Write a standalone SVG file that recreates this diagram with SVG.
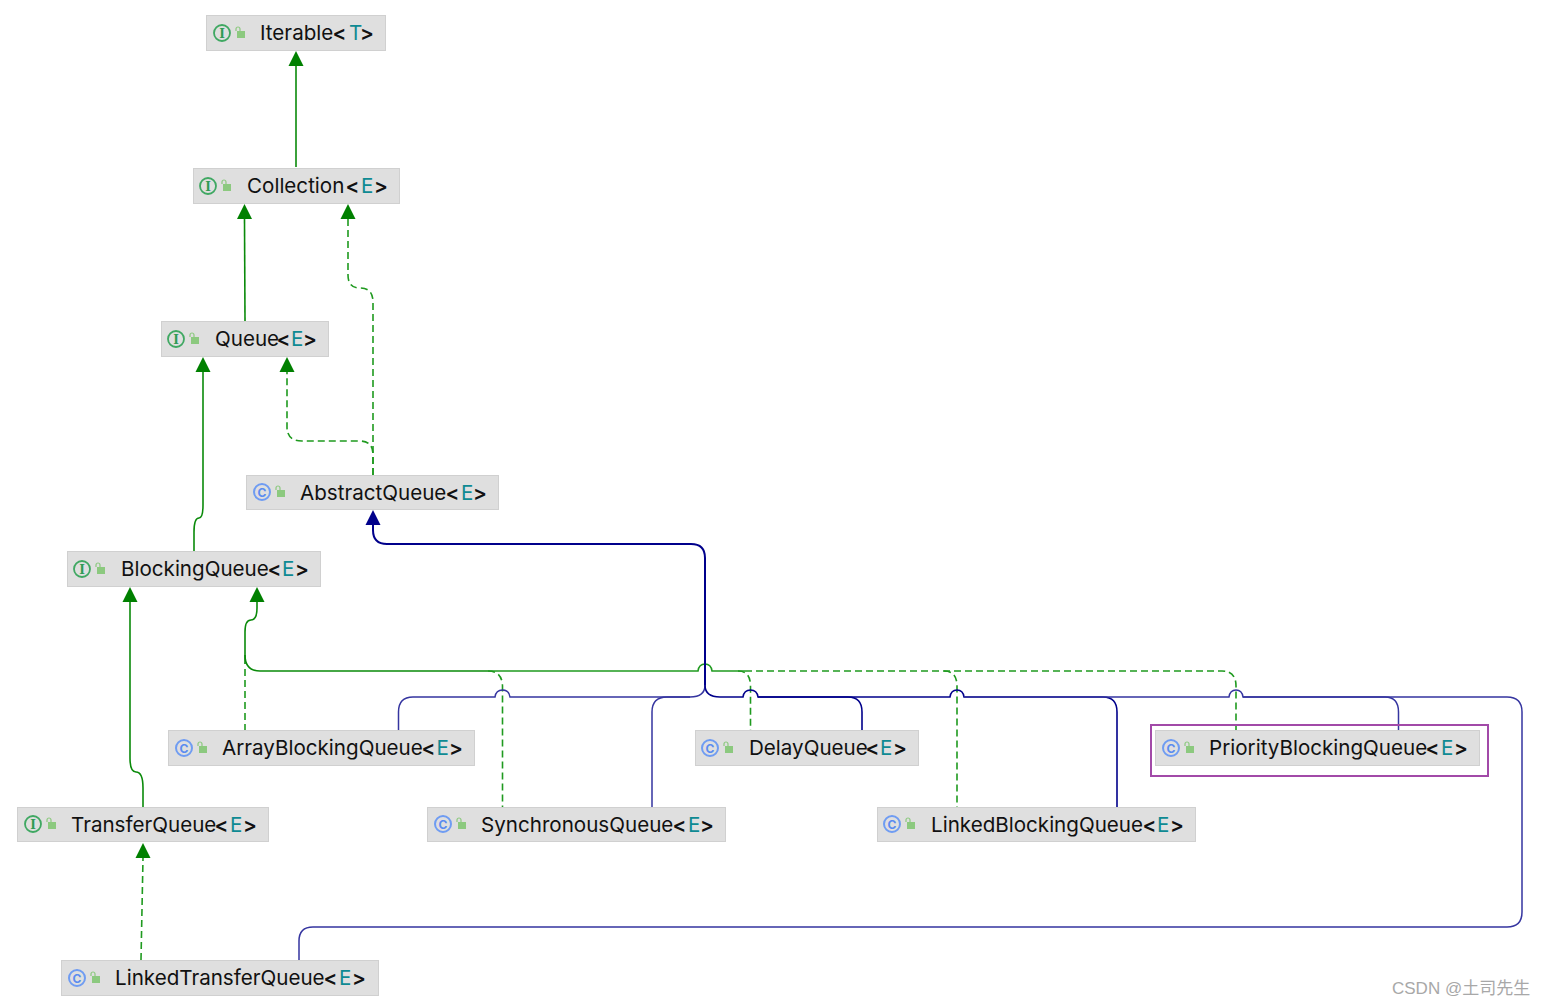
<svg xmlns="http://www.w3.org/2000/svg" width="1544" height="1006" viewBox="0 0 1544 1006">
<style>
.box{fill:#dfdfdf;stroke:#d0d0d0;stroke-width:1}
text{font-family:Inter,"Noto Sans",sans-serif}
.t{font-size:20.600px;fill:#111}
.e{fill:#0e8a93}
.p{font-weight:600}
.c{fill:none;stroke-linecap:butt}
.g{stroke:#0a8a0a;stroke-width:1.6}
.gd{stroke:#1f9a1f;stroke-width:1.6;stroke-dasharray:7 4}
.gs{stroke:#1f9a1f;stroke-width:1.6}
.b{stroke:#00008b;stroke-width:1.6}
.bt{stroke:#00008b;stroke-width:2}
.bl{stroke:#3535a0;stroke-width:1.500}
.ah{fill:#008000}
.ahb{fill:#00008b}
.ci{fill:none;stroke:#3fa862;stroke-width:1.800}
.cc{fill:none;stroke:#6f9cf2;stroke-width:2}
.il{font-size:12px;font-weight:700;text-anchor:middle}
.lk{fill:#8cc97f}
.lks{fill:none;stroke:#8cc97f;stroke-width:1.200}
</style>
<defs>
<g id="lock"><rect class="lk" x="-4" y="-3" width="8" height="7"/><path class="lks" d="M-5 -3V-5a2 2 0 0 1 4 0V-3"/></g>
<g id="iI"><circle class="ci" r="8"/><text class="il" y="4.500" fill="#2f9a55" style="font-family:'DejaVu Serif',serif">I</text><use href="#lock" x="19" y="1"/></g>
<g id="iC"><circle class="cc" r="8"/><text class="il" y="4.500" fill="#5a8cf0">C</text><use href="#lock" x="19" y="1"/></g>
</defs>
<g id="connectors">
<path class="c g" d="M296 167V66"/><path class="ah" d="M296 51l7.500 15h-15z"/>
<path class="c g" d="M245 321L244.500 219"/><path class="ah" d="M244.500 204l7.500 15h-15z"/>
<path class="c gd" d="M373 475V302Q373 288 360 288Q348 288 348 275V219"/><path class="ah" d="M348 204l7.500 15h-15z"/>
<path class="c g" d="M194 551V532Q194 518 199 518Q203 518 203 505V372"/><path class="ah" d="M203 357l7.500 15h-15z"/>
<path class="c gd" d="M373 475V455Q373 441 360 441H302Q287 441 287 427V372"/><path class="ah" d="M287 357l7.500 15h-15z"/>
<path class="c g" d="M143 807V788Q143 772 136 772Q130 772 130 758V602"/><path class="ah" d="M130 587l7.500 15h-15z"/>
<path class="c gd" d="M141 960L143 858"/><path class="ah" d="M143 843l7.500 15h-15z"/>
<path class="c gd" d="M245 731V668"/>
<path class="c g" d="M245 664V632Q245 620 251 620Q257 620 257 608V602"/><path class="ah" d="M257 587l7.500 15h-15z"/>
<path class="c g" d="M245 655Q245 671 260 671H488"/>
<path class="c gs" d="M488 671H698Q699 664 705 664Q711 664 712 671H745"/>
<path class="c gd" d="M745 671H1222Q1236 671 1236 686V731"/>
<path class="c gd" d="M488 671Q502 671 502.500 686V807"/>
<path class="c gd" d="M738 671Q750.500 671 750.500 686V731"/>
<path class="c gd" d="M944 671Q957 671 957 686V807"/>
<path class="c bt" d="M373 525V530Q373 544 387 544H691Q705 544 705 558V685"/><path class="ahb" d="M373 510l7.500 15h-15z"/>
<path class="c bl" d="M398.500 731V712Q398.500 697 413 697H495Q496 690 502.500 690Q509 690 510 697H690Q705 697 705 685"/>
<path class="c bl" d="M652 807V712Q652 697 667 697H690"/>
<path class="c b" d="M705 685Q705 697 720 697H743Q744 690 750.500 690Q757 690 758 697H848Q862 697 862 712V731"/>
<path class="c b" d="M758 697H950Q951 690 957 690Q963 690 964 697H1103Q1117 697 1117 712V807"/>
<path class="c bl" d="M964 697H1229Q1230 690 1236 690Q1242 690 1243 697H1385Q1398.500 697 1398.500 712V731"/>
<path class="c bl" d="M1243 697H1507Q1522 697 1522 712V912Q1522 927 1507 927H313Q299 927 299 941V960"/>
</g>
<g id="Iterable"><rect class="box" x="206.500" y="15.500" width="179" height="35"/><use href="#iI" x="222" y="33"/><text class="t" x="260" y="40">Iterable<tspan class="p" x="332.500">&lt;</tspan><tspan class="e" x="349">T</tspan><tspan class="p" x="360">&gt;</tspan></text></g>
<g id="Collection"><rect class="box" x="193.500" y="168.500" width="206" height="35"/><use href="#iI" x="208" y="186"/><text class="t" x="247" y="193">Collection<tspan class="p" x="345.500">&lt;</tspan><tspan class="e" x="361">E</tspan><tspan class="p" x="374">&gt;</tspan></text></g>
<g id="Queue"><rect class="box" x="161.500" y="321.500" width="167" height="35"/><use href="#iI" x="176" y="339"/><text class="t" x="215" y="346">Queue<tspan class="p" x="276.500">&lt;</tspan><tspan class="e" x="291">E</tspan><tspan class="p" x="303">&gt;</tspan></text></g>
<g id="AbstractQueue"><rect class="box" x="246.500" y="475.500" width="252" height="34"/><use href="#iC" x="262" y="492"/><text class="t" x="300" y="500">AbstractQueue<tspan class="p" x="445.500">&lt;</tspan><tspan class="e" x="461">E</tspan><tspan class="p" x="473">&gt;</tspan></text></g>
<g id="BlockingQueue"><rect class="box" x="67.500" y="551.500" width="253" height="35"/><use href="#iI" x="82" y="569"/><text class="t" x="121" y="576">BlockingQueue<tspan class="p" x="267.500">&lt;</tspan><tspan class="e" x="282">E</tspan><tspan class="p" x="295">&gt;</tspan></text></g>
<g id="ArrayBlockingQueue"><rect class="box" x="168.500" y="730.500" width="306" height="35"/><use href="#iC" x="184" y="748"/><text class="t" x="222" y="755">ArrayBlockingQueue<tspan class="p" x="421.500">&lt;</tspan><tspan class="e" x="436.500">E</tspan><tspan class="p" x="449">&gt;</tspan></text></g>
<g id="SynchronousQueue"><rect class="box" x="427.500" y="807.500" width="298" height="34"/><use href="#iC" x="443" y="824"/><text class="t" x="481" y="832">SynchronousQueue<tspan class="p" x="672.500">&lt;</tspan><tspan class="e" x="688">E</tspan><tspan class="p" x="700">&gt;</tspan></text></g>
<g id="DelayQueue"><rect class="box" x="695.500" y="730.500" width="223" height="35"/><use href="#iC" x="710" y="748"/><text class="t" x="749" y="755">DelayQueue<tspan class="p" x="865.500">&lt;</tspan><tspan class="e" x="880">E</tspan><tspan class="p" x="893">&gt;</tspan></text></g>
<g id="LinkedBlockingQueue"><rect class="box" x="877.500" y="807.500" width="318" height="34"/><use href="#iC" x="892" y="824"/><text class="t" x="931" y="832">LinkedBlockingQueue<tspan class="p" x="1142.500">&lt;</tspan><tspan class="e" x="1157">E</tspan><tspan class="p" x="1170">&gt;</tspan></text></g>
<g id="PriorityBlockingQueue"><rect class="box" x="1155.500" y="730.500" width="324" height="35"/><use href="#iC" x="1171" y="748"/><text class="t" x="1209" y="755">PriorityBlockingQueue<tspan class="p" x="1425.500">&lt;</tspan><tspan class="e" x="1441">E</tspan><tspan class="p" x="1454">&gt;</tspan></text><rect x="1151" y="725" width="337" height="51" fill="none" stroke="#a24aa8" stroke-width="2"/></g>
<g id="TransferQueue"><rect class="box" x="17.500" y="807.500" width="251" height="34"/><use href="#iI" x="33" y="824"/><text class="t" x="71" y="832">TransferQueue<tspan class="p" x="214.500">&lt;</tspan><tspan class="e" x="230">E</tspan><tspan class="p" x="243">&gt;</tspan></text></g>
<g id="LinkedTransferQueue"><rect class="box" x="61.500" y="960.500" width="317" height="35"/><use href="#iC" x="77" y="978"/><text class="t" x="115" y="985">LinkedTransferQueue<tspan class="p" x="323.500">&lt;</tspan><tspan class="e" x="339">E</tspan><tspan class="p" x="352">&gt;</tspan></text></g>
<text x="1392" y="994" font-size="17" fill="#a8a8a8" style="font-family:'Liberation Sans','Noto Sans CJK SC',sans-serif">CSDN @土司先生</text>
</svg>
